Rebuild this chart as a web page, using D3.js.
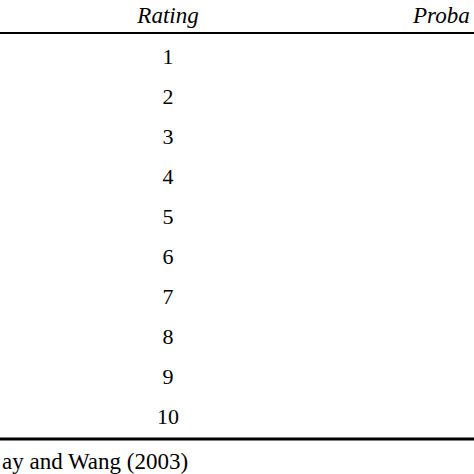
<!DOCTYPE html>
<html><head><meta charset="utf-8">
<script src="https://cdn.jsdelivr.net/npm/d3@7"></script>
<style>body{margin:0;background:#fff}</style>
</head><body>
<svg width="474" height="474"></svg>
<script>
var headers = ["Rating", "Proba"];
var ratings = [1, 2, 3, 4, 5, 6, 7, 8, 9, 10];

var svg = d3.select("svg");
var font = "'Liberation Serif', 'Times New Roman', serif";

var y = d3.scaleLinear().domain([1, 10]).range([64, 424]);

svg.selectAll(".hdr").data(headers).enter().append("text")
  .attr("x", function(d, i) { return i == 0 ? 168 : 413 })
  .attr("y", 23)
  .attr("text-anchor", function(d, i) { return i == 0 ? "middle" : "start" })
  .style("font-family", font).style("font-style", "italic").style("font-size", "23px")
  .text(function(d) { return d });

svg.append("line").attr("x1", 0).attr("x2", 474).attr("y1", 33).attr("y2", 33)
  .attr("stroke", "#000").attr("stroke-width", 2);

svg.selectAll(".r").data(ratings).enter().append("text")
  .attr("x", 168).attr("y", function(d) { return y(d) })
  .attr("text-anchor", "middle")
  .style("font-family", font).style("font-size", "22px")
  .text(function(d) { return d });

svg.append("line").attr("x1", 0).attr("x2", 474).attr("y1", 439).attr("y2", 439)
  .attr("stroke", "#000").attr("stroke-width", 3);

// source line is cut at the left edge in the reference
svg.append("text").attr("x", 2).attr("y", 469).attr("text-anchor", "start")
  .style("font-family", font).style("font-size", "23px")
  .text("ay and Wang (2003)");
</script>
</body></html>
